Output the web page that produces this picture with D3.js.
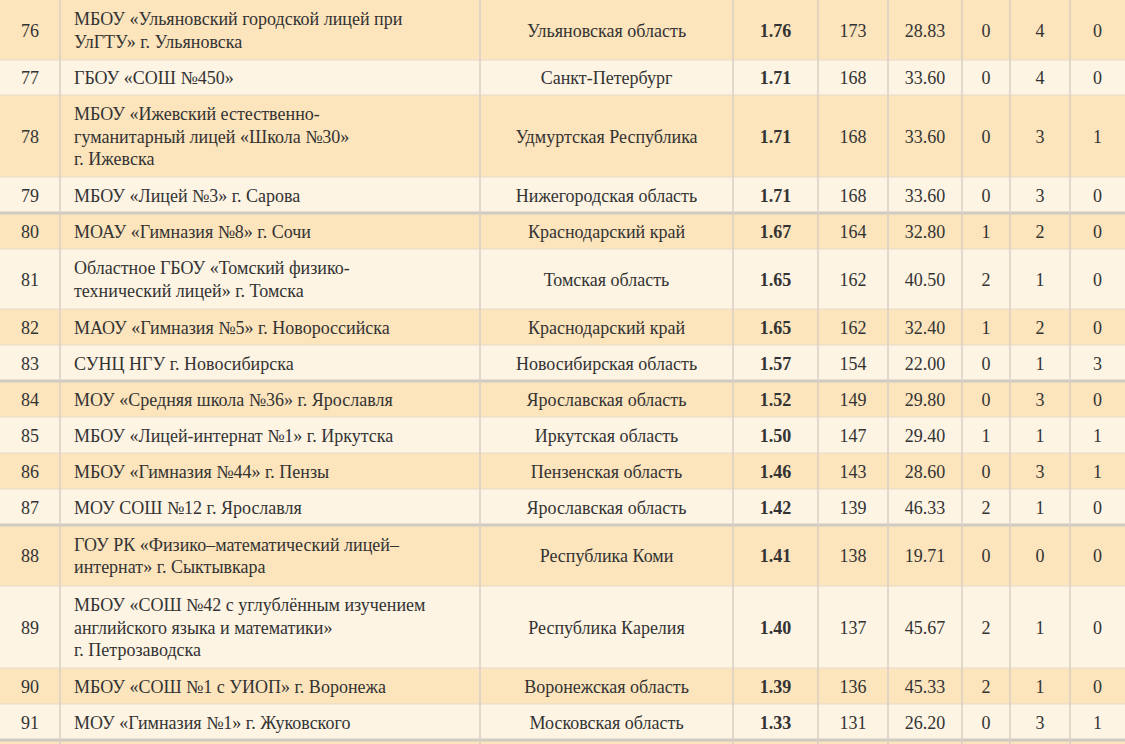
<!DOCTYPE html><html><head><meta charset="utf-8">
<script src="https://cdn.jsdelivr.net/npm/d3@7"></script>
<style>body{margin:0;background:#fff} text{font-family:"Liberation Serif","Times New Roman",Times,"DejaVu Serif",serif}</style></head><body>
<script>
const ranks=[76,77,78,79,80,81,82,83,84,85,86,87,88,89,90,91];
const schools=[
["МБОУ «Ульяновский городской лицей при","УлГТУ» г. Ульяновска"],
["ГБОУ «СОШ №450»"],
["МБОУ «Ижевский естественно-","гуманитарный лицей «Школа №30»","г. Ижевска"],
["МБОУ «Лицей №3» г. Сарова"],
["МОАУ «Гимназия №8» г. Сочи"],
["Областное ГБОУ «Томский физико-","технический лицей» г. Томска"],
["МАОУ «Гимназия №5» г. Новороссийска"],
["СУНЦ НГУ г. Новосибирска"],
["МОУ «Средняя школа №36» г. Ярославля"],
["МБОУ «Лицей-интернат №1» г. Иркутска"],
["МБОУ «Гимназия №44» г. Пензы"],
["МОУ СОШ №12 г. Ярославля"],
["ГОУ РК «Физико–математический лицей–","интернат» г. Сыктывкара"],
["МБОУ «СОШ №42 с углублённым изучением","английского языка и математики»","г. Петрозаводска"],
["МБОУ «СОШ №1 с УИОП» г. Воронежа"],
["МОУ «Гимназия №1» г. Жуковского"]];
const regions=["Ульяновская область","Санкт-Петербург","Удмуртская Республика","Нижегородская область","Краснодарский край","Томская область","Краснодарский край","Новосибирская область","Ярославская область","Иркутская область","Пензенская область","Ярославская область","Республика Коми","Республика Карелия","Воронежская область","Московская область"];
const scores=["1.76","1.71","1.71","1.71","1.67","1.65","1.65","1.57","1.52","1.50","1.46","1.42","1.41","1.40","1.39","1.33"];
const totals=[173,168,168,168,164,162,162,154,149,147,143,139,138,137,136,131];
const avgs=["28.83","33.60","33.60","33.60","32.80","40.50","32.40","22.00","29.80","29.40","28.60","46.33","19.71","45.67","45.33","26.20"];
const c1=[0,0,0,0,1,2,1,0,0,1,0,2,0,2,2,0];
const c2=[4,4,3,3,2,1,2,1,3,1,3,1,0,1,1,3];
const c3=[0,0,1,0,0,0,0,3,0,1,1,0,0,0,0,1];
const rowBounds=[0,60,95,177,213,249,309,345,381,417,453,489,525,586,668,704,740,790];
const colBounds=[0,60,480,733,818,888,962,1010,1070,1125];
const W=1125,H=744;
const svg=d3.select("body").append("svg").attr("width",W).attr("height",H).style("display","block");
const n=ranks.length;
const rows=d3.range(n+1);
svg.selectAll("rect.r").data(rows).join("rect")
 .attr("x",0).attr("width",W).attr("y",i=>rowBounds[i]).attr("height",i=>rowBounds[i+1]-rowBounds[i])
 .attr("fill",i=>i%2===0?"#fce4bc":"#fdf4e3");
svg.selectAll("line.h").data(rowBounds.slice(1,n+1).map((v,i)=>({v,i:i+1}))).join("line")
 .attr("x1",0).attr("x2",W).attr("y1",d=>d.v).attr("y2",d=>d.v)
 .attr("stroke",d=>d.i%4===0?"#cfcac2":"#e6dccb").attr("stroke-width",d=>d.i%4===0?3:1.2);
svg.selectAll("line.v").data(colBounds.slice(1,-1)).join("line")
 .attr("x1",d=>d).attr("x2",d=>d).attr("y1",0).attr("y2",H)
 .attr("stroke","#d9d1c4").attr("stroke-width",1.5);
function cell(col,i,lines,bold){
 const cy=(rowBounds[i]+rowBounds[i+1])/2;
 const lh=22.5;
 const left=col===1;
 const x=left?74:(colBounds[col]+colBounds[col+1])/2;
 const t=svg.append("text").attr("font-size",18).attr("fill","#333")
  .attr("font-weight",bold?"bold":"normal").attr("text-anchor",left?"start":"middle");
 lines.forEach((l,k)=>t.append("tspan").attr("x",x).attr("y",cy+(k-(lines.length-1)/2)*lh+6.5).text(l));
}
for(let i=0;i<n;i++){
 cell(0,i,[String(ranks[i])]);
 cell(1,i,schools[i]);
 cell(2,i,[regions[i]]);
 cell(3,i,[scores[i]],true);
 cell(4,i,[String(totals[i])]);
 cell(5,i,[avgs[i]]);
 cell(6,i,[String(c1[i])]);
 cell(7,i,[String(c2[i])]);
 cell(8,i,[String(c3[i])]);
}
</script></body></html>
